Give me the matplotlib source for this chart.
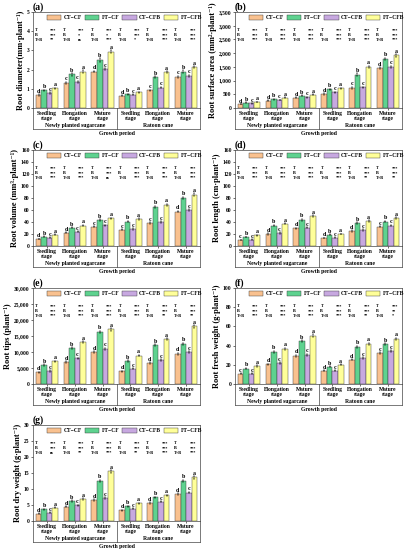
import numpy as np
import matplotlib
matplotlib.use("Agg")
import matplotlib.pyplot as plt
from matplotlib.patches import Patch
from matplotlib.ticker import FuncFormatter, MultipleLocator

plt.rcParams['font.family'] = ['Liberation Serif', 'DejaVu Serif']
plt.rcParams['font.weight'] = 'bold'

# treatments and categories
treatments = ["CT\u2212CF", "FT\u2212CF", "CT\u2212CFB", "FT\u2212CFB"]
colours = ["#F9C18F", "#5ED28F", "#C7A8E0", "#FFFF99"]
stages = ["Seedling\nstage", "Elongation\nstage", "Mature\nstage"] * 2
seasons = ["Newly planted sugarcane", "Ratoon cane"]

# (a) root diameter
diameter = [
    [0.68, 1.32, 1.90, 0.63, 0.92, 1.63],
    [0.92, 1.75, 2.50, 0.72, 1.60, 1.90],
    [0.78, 1.37, 2.02, 0.70, 1.06, 1.68],
    [1.02, 1.90, 2.92, 0.82, 1.88, 2.12],
]
diameter_err = [
    [0.03, 0.05, 0.05, 0.03, 0.04, 0.05],
    [0.04, 0.06, 0.08, 0.03, 0.05, 0.06],
    [0.03, 0.05, 0.06, 0.03, 0.04, 0.05],
    [0.04, 0.06, 0.08, 0.03, 0.05, 0.06],
]
diameter_letters = ["dbca", "cbca", "dbca", "dbca", "cbca", "cbca"]
diameter_sig = [["***"] * 6,
                ["***", "*", "*", "***", "***", "***"],
                ["**", "ns", "***", "*", "***", "***"]]

# (b) root surface area
surface = [
    [140, 265, 375, 510, 740, 1450],
    [200, 315, 447, 676, 1220, 1787],
    [165, 290, 398, 567, 750, 1497],
    [215, 375, 483, 713, 1497, 1920],
]
surface_err = [
    [10, 15, 20, 25, 30, 40],
    [12, 18, 22, 30, 40, 45],
    [10, 15, 20, 25, 30, 40],
    [12, 20, 25, 30, 40, 50],
]
surface_letters = ["dbca", "dbca", "dbca", "dbca", "cbca", "dbca"]
surface_sig = [["***"] * 6, ["***"] * 6, ["***"] * 6]

# (c) root volume
volume = [
    [11.7, 22.3, 32.3, 27.3, 38.4, 57.4],
    [15.6, 30.6, 43.5, 40.7, 65.0, 80.2],
    [13.9, 24.0, 34.5, 28.4, 40.0, 60.2],
    [18.9, 34.0, 46.0, 45.0, 68.5, 85.8],
]
volume_err = [
    [0.8, 1.0, 1.2, 1.0, 1.3, 1.5],
    [1.0, 1.2, 1.5, 1.5, 2.0, 2.0],
    [0.8, 1.0, 1.2, 1.0, 1.3, 1.5],
    [1.0, 1.2, 1.5, 1.5, 2.0, 2.0],
]
volume_letters = ["dbca", "dbca", "cbca", "cbca", "cbca", "dbca"]
volume_sig = [["***"] * 6,
              ["***", "***", "***", "***", "**", "***"],
              ["***", "***", "ns", "***", "***", "***"]]

# (d) root length
length = [
    [10.0, 20.0, 29.5, 13.4, 25.0, 32.3],
    [15.0, 34.0, 44.0, 18.4, 38.4, 40.7],
    [10.6, 21.7, 30.6, 14.0, 26.7, 34.0],
    [17.8, 37.3, 50.0, 20.0, 41.8, 46.8],
]
length_err = [
    [0.6, 1.0, 1.2, 0.7, 1.0, 1.2],
    [0.8, 1.2, 1.5, 0.8, 1.2, 1.4],
    [0.6, 1.0, 1.2, 0.7, 1.0, 1.2],
    [0.8, 1.2, 1.5, 0.8, 1.2, 1.4],
]
length_letters = ["cbca", "dbca", "dbca", "dbca", "dbca", "cbca"]
length_sig = [["***"] * 6, ["***"] * 6,
              ["***", "***", "***", "***", "**", "**"]]

# (e) root tips
tips = [
    [3600, 6950, 10000, 4000, 6500, 9500],
    [5900, 11250, 16200, 7150, 12100, 12600],
    [4100, 8000, 11050, 4750, 7450, 10000],
    [7050, 13050, 17050, 8850, 14000, 18000],
]
tips_err = [
    [200, 250, 300, 200, 250, 300],
    [250, 300, 400, 250, 300, 350],
    [200, 250, 300, 200, 250, 300],
    [250, 300, 400, 250, 300, 450],
]
tips_letters = ["dbca"] * 6
tips_sig = [["***"] * 6, ["***"] * 6,
            ["***", "***", "***", "***", "**", "**"]]

# (f) root fresh weight
fresh = [
    [10.5, 20.4, 29.5, 14.0, 25.3, 32.3],
    [16.0, 33.7, 44.6, 17.9, 39.0, 41.4],
    [10.5, 22.0, 30.5, 14.0, 27.0, 34.0],
    [19.0, 36.8, 50.5, 20.0, 42.1, 47.0],
]
fresh_err = [
    [0.6, 0.8, 1.0, 0.6, 0.8, 1.0],
    [0.8, 1.0, 1.2, 0.7, 1.0, 1.2],
    [0.6, 0.8, 1.0, 0.6, 0.8, 1.0],
    [0.8, 1.0, 1.2, 0.7, 1.0, 1.2],
]
fresh_letters = ["cbca", "dbca", "dbca", "dbca", "dbca", "cbca"]
fresh_sig = [["***"] * 6,
             ["***", "***", "***", "***", "***", "**"],
             ["***", "***", "***", "***", "**", "*"]]

# (g) root dry weight
dry = [
    [2.2, 4.5, 6.5, 3.4, 5.6, 8.4],
    [3.6, 6.2, 12.5, 4.6, 7.4, 12.5],
    [2.6, 4.9, 7.2, 3.9, 6.0, 8.9],
    [4.2, 6.9, 15.5, 5.5, 8.0, 13.6],
]
dry_err = [
    [0.15, 0.2, 0.25, 0.15, 0.2, 0.25],
    [0.2, 0.25, 0.35, 0.2, 0.25, 0.35],
    [0.15, 0.2, 0.25, 0.15, 0.2, 0.25],
    [0.2, 0.25, 0.35, 0.2, 0.25, 0.35],
]
dry_letters = ["dbca"] * 6
dry_sig = [["***"] * 6, ["***"] * 6,
           ["ns", "**", "***", "**", "***", "***"]]


def thousands(v, pos):
    return "{:,.0f}".format(v)


def DrawPanel(ax, tag, ylabel, values, errors, ymax, step, letters, sig, comma=False):
    """
    Grouped bars with error bars, letters, significance rows and
    the two-level x axis (stage / season / growth period).
    """
    x = np.arange(6)
    width = 0.2
    offsets = (np.arange(4) - 1.5) * width
    for k in range(4):
        ax.bar(x + offsets[k], values[k], width, color = colours[k], edgecolor = "#333333",
               linewidth = 0.3, yerr = errors[k], zorder = 2,
               error_kw = dict(elinewidth = 0.35, capsize = 0.9, capthick = 0.35, ecolor = "black"))
        for i in range(6):
            ax.text(x[i] + offsets[k], values[k][i] + errors[k][i] + ymax * 0.004, letters[i][k],
                    ha = "center", va = "bottom", fontsize = 4.3, fontweight = "bold")

    ax.set_xlim(-0.5, 5.5)
    ax.set_ylim(0, ymax)
    ax.yaxis.set_major_locator(MultipleLocator(step))
    if comma:
        ax.yaxis.set_major_formatter(FuncFormatter(thousands))
    ax.set_xticks(x)
    ax.set_xticklabels(stages, fontsize = 4.0, linespacing = 0.95)
    ax.tick_params(axis = "y", labelsize = 4.0, length = 1.5, width = 0.4, pad = 1)
    ax.tick_params(axis = "x", length = 1.5, width = 0.4, pad = 1)
    for s in ax.spines.values():
        s.set_linewidth(0.5)
        s.set_color("#444444")
    ax.set_ylabel(ylabel, fontsize = 6.0, fontweight = "bold", labelpad = 1.5)

    # significance rows
    rows = [0.81, 0.76, 0.71]
    names = ["T", "B", "T\u00d7B"]
    for r in range(3):
        for i in range(6):
            ax.text(i - 0.43, rows[r], names[r], transform = ax.get_xaxis_transform(),
                    fontsize = 3.1, va = "center", ha = "left")
            ax.text(i + 0.12, rows[r], sig[r][i], transform = ax.get_xaxis_transform(),
                    fontsize = 3.1, va = "center", ha = "left")

    # two-level x axis
    tr = ax.get_xaxis_transform()
    for xv in [-0.5, 2.5, 5.5]:
        ax.plot([xv, xv], [0, -0.22], color = "#444444", lw = 0.5, transform = tr, clip_on = False)
    ax.plot([-0.5, 5.5], [-0.22, -0.22], color = "#444444", lw = 0.5, transform = tr, clip_on = False)
    ax.text(1, -0.178, seasons[0], transform = tr, ha = "center", va = "center", fontsize = 4.1)
    ax.text(4, -0.178, seasons[1], transform = tr, ha = "center", va = "center", fontsize = 4.1)
    ax.text(2.5, -0.265, "Growth period", transform = tr, ha = "center", va = "center", fontsize = 4.1)

    handles = [Patch(facecolor = colours[k], edgecolor = "#333333", linewidth = 0.3) for k in range(4)]
    ax.legend(handles, treatments, loc = "center left", bbox_to_anchor = (0.085, 0.943), ncol = 4,
              frameon = False, fontsize = 4.1, handlelength = 2.5, handleheight = 1.1,
              columnspacing = 0.5, handletextpad = 0.45, borderpad = 0, borderaxespad = 0)

    ax.text(0.0, 1.0, tag, transform = ax.transAxes, fontsize = 7, fontweight = "bold",
            ha = "left", va = "bottom")


W, H = 404, 550
fig = plt.figure(figsize = (W / 100, H / 100), dpi = 100)
col_left = [33, 235]
row_top = [12, 150, 288, 425]
aw, ah = 167, 96


def MakeAxes(row, col):
    return fig.add_axes([col_left[col] / W, 1 - (row_top[row] + ah) / H, aw / W, ah / H])


DrawPanel(MakeAxes(0, 0), "(a)", "Root diameter(mm\u00b7plant\u207b\u00b9)",
          diameter, diameter_err, 5, 1, diameter_letters, diameter_sig)
DrawPanel(MakeAxes(0, 1), "(b)", "Root surface area (mm\u00b2\u00b7plant\u207b\u00b9)",
          surface, surface_err, 3500, 500, surface_letters, surface_sig, comma = True)
DrawPanel(MakeAxes(1, 0), "(c)", "Root volume (mm\u00b3\u00b7plant\u207b\u00b9)",
          volume, volume_err, 160, 20, volume_letters, volume_sig)
DrawPanel(MakeAxes(1, 1), "(d)", "Root length (cm\u00b7plant\u207b\u00b9)",
          length, length_err, 160, 20, length_letters, length_sig)
DrawPanel(MakeAxes(2, 0), "(e)", "Root tips (plant\u207b\u00b9)",
          tips, tips_err, 30000, 5000, tips_letters, tips_sig, comma = True)
DrawPanel(MakeAxes(2, 1), "(f)", "Root fresh weight (g\u00b7plant\u207b\u00b9)",
          fresh, fresh_err, 100, 20, fresh_letters, fresh_sig)
DrawPanel(MakeAxes(3, 0), "(g)", "Root dry weight (g\u00b7plant\u207b\u00b9)",
          dry, dry_err, 30, 5, dry_letters, dry_sig)

fig.savefig("out.png", dpi = 100)
